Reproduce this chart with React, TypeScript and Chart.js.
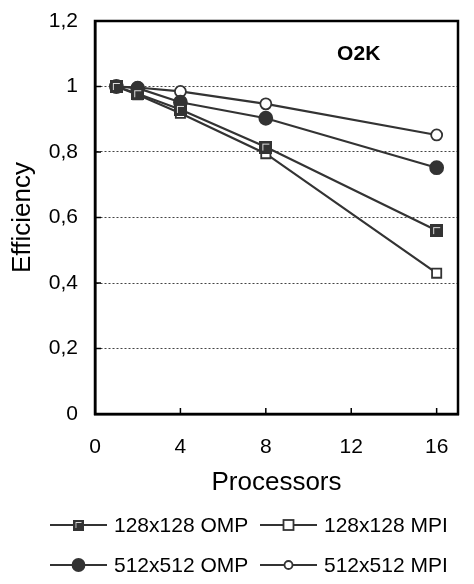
import React, { useEffect, useRef } from "react";
import { Chart, registerables } from "chart.js";

Chart.register(...registerables);

// ---- Data ----
const processors = [1, 2, 4, 8, 16];
const omp128 = [1.0, 0.978, 0.93, 0.815, 0.56];
const mpi128 = [1.0, 0.975, 0.918, 0.795, 0.43];
const omp512 = [1.0, 0.995, 0.952, 0.903, 0.752];
const mpi512 = [1.0, 0.997, 0.985, 0.947, 0.852];
const seriesNames = ["128x128 OMP", "128x128 MPI", "512x512 OMP", "512x512 MPI"];
const xTickValues = [0, 4, 8, 12, 16];
const yTickValues = [0, 0.2, 0.4, 0.6, 0.8, 1, 1.2];
const yTickLabels = ["0", "0,2", "0,4", "0,6", "0,8", "1", "1,2"];
const xTitle = "Processors";
const yTitle = "Efficiency";
const panelLabel = "O2K";
const panelLabelAt = { x: 12.35, y: 1.1 };

const FONT = "'Liberation Sans', Arial, Helvetica, sans-serif";
const INK = "#333333";

function makeOmpSquare(): HTMLCanvasElement {
  const c = document.createElement("canvas");
  c.width = 13;
  c.height = 13;
  const g = c.getContext("2d")!;
  g.fillStyle = INK;
  g.fillRect(0, 0, 13, 13);
  g.fillStyle = "#dddddd";
  g.fillRect(3, 3, 7, 1);
  g.fillRect(3, 3, 1, 7);
  return c;
}

export default function App() {
  const ref = useRef<HTMLCanvasElement>(null);

  useEffect(() => {
    const canvas = ref.current!;
    const ompSquare = makeOmpSquare();
    const values = [omp128, mpi128, omp512, mpi512];
    const styles = [
      { pointStyle: ompSquare as any, bg: INK, radius: 6 },
      { pointStyle: "rect", bg: "#ffffff", radius: 6.5 },
      { pointStyle: "circle", bg: INK, radius: 6.5 },
      { pointStyle: "circle", bg: "#ffffff", radius: 5.5 },
    ];

    const datasets = values.map((vals, i) => ({
      label: seriesNames[i],
      data: processors.map((p, j) => ({ x: p, y: vals[j] })),
      borderColor: INK,
      borderWidth: 2.2,
      pointStyle: styles[i].pointStyle,
      pointRadius: styles[i].radius,
      pointBackgroundColor: styles[i].bg,
      pointBorderColor: INK,
      pointBorderWidth: 1.8,
      tension: 0,
    }));

    const framePlugin = {
      id: "frame",
      beforeDatasetsDraw(chart: any) {
        const { ctx, chartArea: a, scales } = chart;
        ctx.save();
        ctx.strokeStyle = "#000";
        ctx.lineWidth = 1.5;
        xTickValues.forEach((v) => {
          if (v === 0) return;
          const px = scales.x.getPixelForValue(v);
          ctx.beginPath();
          ctx.moveTo(px, a.bottom);
          ctx.lineTo(px, a.bottom - 6);
          ctx.stroke();
        });
        yTickValues.forEach((v) => {
          if (v === 0) return;
          const py = scales.y.getPixelForValue(v);
          ctx.beginPath();
          ctx.moveTo(a.left, py);
          ctx.lineTo(a.left + 6, py);
          ctx.stroke();
        });
        ctx.lineWidth = 2.5;
        ctx.strokeRect(a.left, a.top, a.right - a.left, a.bottom - a.top);
        ctx.restore();
      },
      afterDraw(chart: any) {
        const { ctx, scales } = chart;
        ctx.save();
        ctx.font = `bold 21px ${FONT}`;
        ctx.fillStyle = "#000";
        ctx.textAlign = "center";
        ctx.textBaseline = "middle";
        ctx.fillText(
          panelLabel,
          scales.x.getPixelForValue(panelLabelAt.x),
          scales.y.getPixelForValue(panelLabelAt.y)
        );
        const colX = [50, 260];
        const rowY = [chart.height - 59, chart.height - 19];
        chart.data.datasets.forEach((ds: any, i: number) => {
          const x0 = colX[i % 2];
          const y = rowY[Math.floor(i / 2)];
          const lineLen = 57;
          ctx.strokeStyle = INK;
          ctx.lineWidth = 2;
          ctx.beginPath();
          ctx.moveTo(x0, y);
          ctx.lineTo(x0 + lineLen, y);
          ctx.stroke();
          const cx = x0 + lineLen / 2;
          const ps = ds.pointStyle;
          if (ps instanceof HTMLCanvasElement) {
            ctx.drawImage(ps, cx - 5.5, y - 5.5, 11, 11);
          } else if (ps === "rect") {
            ctx.fillStyle = ds.pointBackgroundColor;
            ctx.fillRect(cx - 5, y - 5, 10, 10);
            ctx.lineWidth = 1.8;
            ctx.strokeRect(cx - 5, y - 5, 10, 10);
          } else {
            const r = ds.pointBackgroundColor === "#ffffff" ? 4 : 6;
            ctx.fillStyle = ds.pointBackgroundColor;
            ctx.beginPath();
            ctx.arc(cx, y, r, 0, Math.PI * 2);
            ctx.fill();
            ctx.lineWidth = 1.8;
            ctx.stroke();
          }
          ctx.fillStyle = "#000";
          ctx.font = `21px ${FONT}`;
          ctx.textAlign = "left";
          ctx.textBaseline = "middle";
          ctx.fillText(ds.label, x0 + 64, y + 1);
        });
        ctx.restore();
      },
    };

    const chart = new Chart(canvas, {
      type: "line",
      data: { datasets: datasets as any },
      plugins: [framePlugin],
      options: {
        responsive: false,
        animation: false,
        devicePixelRatio: 1,
        layout: { padding: { left: 0, right: 16, top: 21, bottom: 86 } },
        plugins: { legend: { display: false }, tooltip: { enabled: false } },
        scales: {
          x: {
            type: "linear",
            min: 0,
            max: 17,
            afterBuildTicks: (axis: any) => {
              axis.ticks = xTickValues.map((v) => ({ value: v }));
            },
            afterFit: (axis: any) => {
              axis.height = 84;
              axis.paddingLeft = 0;
              axis.paddingRight = 0;
            },
            grid: { display: false, drawTicks: false },
            border: { display: true, color: "#000", width: 2.5 },
            ticks: {
              padding: 21,
              color: "#000",
              font: { family: FONT, size: 21 },
              maxRotation: 0,
              callback: (v: any) => String(v),
            },
            title: {
              display: true,
              text: xTitle,
              color: "#000",
              font: { family: FONT, size: 26 },
              padding: { top: 0, bottom: 0 },
            },
          },
          y: {
            type: "linear",
            min: 0,
            max: 1.2,
            afterBuildTicks: (axis: any) => {
              axis.ticks = yTickValues.map((v) => ({ value: v }));
            },
            afterFit: (axis: any) => {
              axis.width = 95;
              axis.paddingTop = 0;
              axis.paddingBottom = 0;
            },
            grid: {
              drawTicks: false,
              color: (c: any) =>
                c.tick && (c.tick.value === 0 || c.tick.value === 1.2)
                  ? "rgba(0,0,0,0)"
                  : "#444444",
              lineWidth: 1,
            } as any,
            border: { display: true, color: "#000", width: 2.5, dash: [2, 2] } as any,
            ticks: {
              padding: 17,
              color: "#000",
              font: { family: FONT, size: 21 },
              callback: (v: any) => {
                const idx = yTickValues.findIndex((t) => Math.abs(t - v) < 1e-6);
                return idx >= 0 ? yTickLabels[idx] : "";
              },
            },
            title: {
              display: true,
              text: yTitle,
              color: "#000",
              font: { family: FONT, size: 26 },
              padding: { top: 7, bottom: 0 },
            },
          },
        },
      },
    });
    return () => chart.destroy();
  }, []);

  return (
    <div style={{ position: "absolute", left: 0, top: 0, width: 474, height: 584, background: "#fff" }}>
      <canvas ref={ref} width={474} height={584} />
    </div>
  );
}
